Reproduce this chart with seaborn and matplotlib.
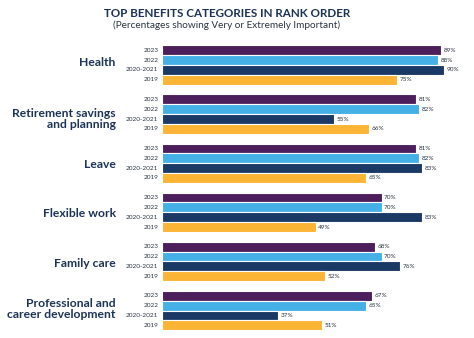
import matplotlib
matplotlib.use("Agg")
import matplotlib.pyplot as plt
import seaborn as sns
import pandas as pd

categories = ["Health", "Retirement savings\nand planning", "Leave", "Flexible work",
              "Family care", "Professional and\ncareer development"]
years = ["2023", "2022", "2020-2021", "2019"]
v2023 = [89, 81, 81, 70, 68, 67]
v2022 = [88, 82, 82, 70, 70, 65]
v2020_2021 = [90, 55, 83, 83, 76, 37]
v2019 = [75, 66, 65, 49, 52, 51]
palette = ["#4D1E5C", "#45B0E6", "#1A3A65", "#FBB433"]
label_dy = [1.7, -3.7, -1.2, -1.1, -1.7, 0.9]

rows = []
for yr, vals in zip(years, [v2023, v2022, v2020_2021, v2019]):
    for c, v in zip(categories, vals):
        rows.append({"category": c, "year": yr, "value": v})
df = pd.DataFrame(rows)

sns.set_theme(style="white")
plt.rcParams["font.family"] = ["Lato", "DejaVu Sans"]

W, H = 474, 338
fig = plt.figure(figsize=(W / 100, H / 100), dpi=100)
left_px, top_px, bottom_px = 161.7, 40.45, 335.05
ax = fig.add_axes([left_px / W, (H - bottom_px) / H, (W - left_px) / W, (bottom_px - top_px) / H])

sns.barplot(data=df, y="category", x="value", hue="year", order=categories,
            hue_order=years, palette=palette, orient="h", width=0.8,
            edgecolor="white", linewidth=0.8, saturation=1, ax=ax, legend=False)

ax.set_xlim(0, (W - left_px) / 3.14)
ax.set_ylim(5.5, -0.5)
ax.set_xlabel("")
ax.set_ylabel("")
ax.set_xticks([])
ax.set_yticks([])
for s in ax.spines.values():
    s.set_visible(False)

navy = "#1C3356"
for cont, yr in zip(ax.containers, years):
    ax.bar_label(cont, labels=[f"{int(b.get_width())}%" for b in cont],
                 padding=1.8, fontsize=4.6, color="#2B3440")
    for b in cont:
        yc = b.get_y() + b.get_height() / 2
        ax.annotate(yr, xy=(0, yc), xytext=(-2.5, 0), textcoords="offset points",
                    ha="right", va="center", fontsize=4.6, color="#2B3440",
                    annotation_clip=False)

for i, c in enumerate(categories):
    ax.annotate(c, xy=(0, i), xytext=(-33, label_dy[i]), textcoords="offset points",
                ha="right", va="center", fontsize=8.7, fontweight="bold",
                color=navy, linespacing=0.95, annotation_clip=False)

fig.text(227 / W, 1 - 13.3 / H, "TOP BENEFITS CATEGORIES IN RANK ORDER",
         ha="center", va="center", fontsize=8.4, fontweight="bold", color=navy)
fig.text(227 / W, 1 - 25.3 / H, "(Percentages showing Very or Extremely Important)",
         ha="center", va="center", fontsize=7.2, color="#2B3440")

fig.savefig("out.png", dpi=100)
